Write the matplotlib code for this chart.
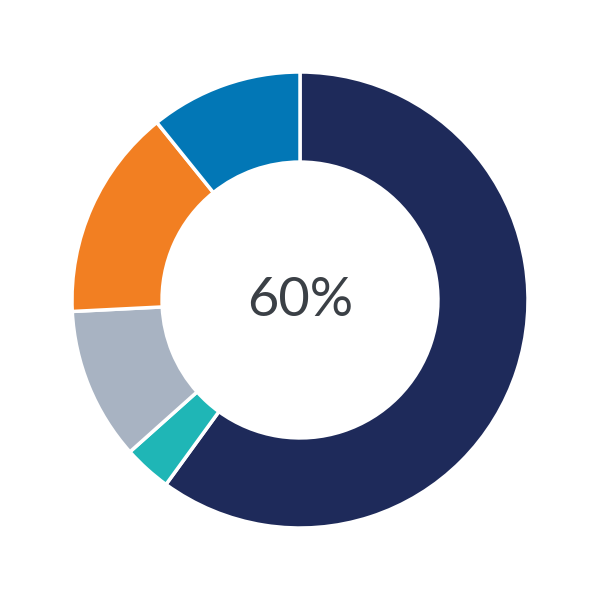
import matplotlib
matplotlib.use("Agg")
import matplotlib.pyplot as plt

labels = ["A", "B", "C", "D", "E"]
values = [60, 3.4, 10.8, 15, 10.8]
colors = ["#1e2a5a", "#1fb6b6", "#a8b3c2", "#f27f22", "#0277b6"]
center_label = "60%"

fig = plt.figure(figsize=(6, 6), dpi=100)
ax = fig.add_axes([0, 0, 1, 1])
ax.pie(values, colors=colors, startangle=90, counterclock=False,
       radius=1.0, wedgeprops=dict(width=0.395, edgecolor="white", linewidth=2.5))
lim = 300 / 228
ax.set_xlim(-lim, lim)
ax.set_ylim(-lim, lim)
ax.set_aspect("equal")
ax.axis("off")
ax.text(0, 0.0, center_label, ha="center", va="center", fontsize=39,
        family=["Lato", "DejaVu Sans"], fontweight="normal", color="#3b4046")
fig.savefig("out.png", dpi=100, facecolor="white")
